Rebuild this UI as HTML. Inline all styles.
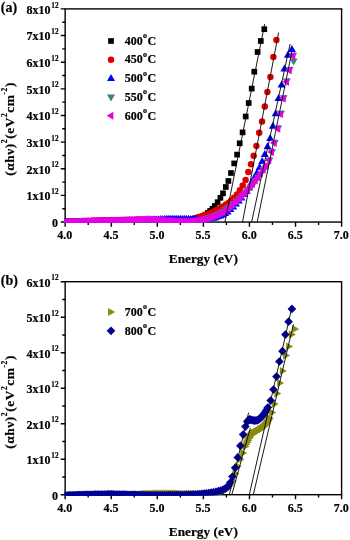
<!DOCTYPE html>
<html lang="en">
<head>
<meta charset="utf-8">
<title>Tauc plots</title>
<style>html,body{margin:0;padding:0;background:#fff}svg{display:block}text{stroke:#000;stroke-width:.2px}</style>
</head>
<body>
<svg width="350" height="540" viewBox="0 0 350 540" font-family='"Liberation Serif", "Times New Roman", Times, serif' font-weight="bold" fill="#000">
<rect width="350" height="540" fill="#fff"/>
<defs><clipPath id="ca"><rect x="64.45" y="8.2" width="277.85" height="214.55"/></clipPath><clipPath id="cb"><rect x="64.45" y="281" width="277.85" height="214.4"/></clipPath></defs>
<rect x="65.15" y="8.9" width="276.45" height="213.15" fill="none" stroke="#000" stroke-width="1.4"/>
<path d="M65.15 8.9h-4.4M65.15 22.22h-2.9M65.15 35.54h-4.4M65.15 48.87h-2.9M65.15 62.19h-4.4M65.15 75.51h-2.9M65.15 88.83h-4.4M65.15 102.15h-2.9M65.15 115.48h-4.4M65.15 128.8h-2.9M65.15 142.12h-4.4M65.15 155.44h-2.9M65.15 168.76h-4.4M65.15 182.08h-2.9M65.15 195.41h-4.4M65.15 208.73h-2.9M65.15 222.05h-4.4M65.15 222.05v4.6M88.19 222.05v2.9M111.23 222.05v4.6M134.26 222.05v2.9M157.3 222.05v4.6M180.34 222.05v2.9M203.38 222.05v4.6M226.41 222.05v2.9M249.45 222.05v4.6M272.49 222.05v2.9M295.53 222.05v4.6M318.56 222.05v2.9M341.6 222.05v4.6" stroke="#000" stroke-width="1.4" fill="none"/>
<g font-size="12" text-anchor="end">
<text x="50.5" y="13.8">8x10</text>
<text x="51.3" y="7.5" font-size="7.2" text-anchor="start" stroke="#000" stroke-width="0.15">12</text>
<text x="50.5" y="40.44">7x10</text>
<text x="51.3" y="34.14" font-size="7.2" text-anchor="start" stroke="#000" stroke-width="0.15">12</text>
<text x="50.5" y="67.09">6x10</text>
<text x="51.3" y="60.79" font-size="7.2" text-anchor="start" stroke="#000" stroke-width="0.15">12</text>
<text x="50.5" y="93.73">5x10</text>
<text x="51.3" y="87.43" font-size="7.2" text-anchor="start" stroke="#000" stroke-width="0.15">12</text>
<text x="50.5" y="120.38">4x10</text>
<text x="51.3" y="114.08" font-size="7.2" text-anchor="start" stroke="#000" stroke-width="0.15">12</text>
<text x="50.5" y="147.02">3x10</text>
<text x="51.3" y="140.72" font-size="7.2" text-anchor="start" stroke="#000" stroke-width="0.15">12</text>
<text x="50.5" y="173.66">2x10</text>
<text x="51.3" y="167.36" font-size="7.2" text-anchor="start" stroke="#000" stroke-width="0.15">12</text>
<text x="50.5" y="200.31">1x10</text>
<text x="51.3" y="194.01" font-size="7.2" text-anchor="start" stroke="#000" stroke-width="0.15">12</text>
<text x="58.0" y="226.95">0</text>
</g>
<g font-size="12" text-anchor="middle">
<text x="64.85" y="238.85">4.0</text>
<text x="110.93" y="238.85">4.5</text>
<text x="157" y="238.85">5.0</text>
<text x="203.08" y="238.85">5.5</text>
<text x="249.15" y="238.85">6.0</text>
<text x="295.23" y="238.85">6.5</text>
<text x="341.3" y="238.85">7.0</text>
</g>
<text x="203.3" y="263.35" font-size="13.3" text-anchor="middle">Energy (eV)</text>
<text transform="translate(13.9 128.9) rotate(-90)" font-size="13.4" letter-spacing="0.55" text-anchor="middle">(αhν)<tspan font-size="7.6" dy="-7.2">2</tspan><tspan dy="7.2">(eV</tspan><tspan font-size="7.6" dy="-7.2">2</tspan><tspan dy="7.2">cm</tspan><tspan font-size="7.6" dy="-7.2">-2</tspan><tspan dy="7.2">)</tspan></text>
<text x="0.8" y="11.8" font-size="14">(a)</text>
<g clip-path="url(#ca)">
<g fill="#000000"><rect x="61.36" y="218.95" width="5.7" height="5.7"/><rect x="62.55" y="218.94" width="5.7" height="5.7"/><rect x="63.75" y="218.91" width="5.7" height="5.7"/><rect x="64.95" y="218.88" width="5.7" height="5.7"/><rect x="66.17" y="218.86" width="5.7" height="5.7"/><rect x="67.39" y="218.83" width="5.7" height="5.7"/><rect x="68.62" y="218.8" width="5.7" height="5.7"/><rect x="69.85" y="218.77" width="5.7" height="5.7"/><rect x="71.1" y="218.74" width="5.7" height="5.7"/><rect x="72.35" y="218.71" width="5.7" height="5.7"/><rect x="73.62" y="218.68" width="5.7" height="5.7"/><rect x="74.89" y="218.65" width="5.7" height="5.7"/><rect x="76.17" y="218.62" width="5.7" height="5.7"/><rect x="77.46" y="218.59" width="5.7" height="5.7"/><rect x="78.75" y="218.56" width="5.7" height="5.7"/><rect x="80.06" y="218.53" width="5.7" height="5.7"/><rect x="81.37" y="218.5" width="5.7" height="5.7"/><rect x="82.7" y="218.46" width="5.7" height="5.7"/><rect x="84.03" y="218.43" width="5.7" height="5.7"/><rect x="85.37" y="218.4" width="5.7" height="5.7"/><rect x="86.72" y="218.37" width="5.7" height="5.7"/><rect x="88.08" y="218.34" width="5.7" height="5.7"/><rect x="89.45" y="218.3" width="5.7" height="5.7"/><rect x="90.83" y="218.27" width="5.7" height="5.7"/><rect x="92.22" y="218.24" width="5.7" height="5.7"/><rect x="93.62" y="218.21" width="5.7" height="5.7"/><rect x="95.03" y="218.17" width="5.7" height="5.7"/><rect x="96.45" y="218.14" width="5.7" height="5.7"/><rect x="97.88" y="218.11" width="5.7" height="5.7"/><rect x="99.32" y="218.07" width="5.7" height="5.7"/><rect x="100.77" y="218.04" width="5.7" height="5.7"/><rect x="102.23" y="218" width="5.7" height="5.7"/><rect x="103.7" y="217.97" width="5.7" height="5.7"/><rect x="105.18" y="217.93" width="5.7" height="5.7"/><rect x="106.67" y="217.9" width="5.7" height="5.7"/><rect x="108.17" y="217.86" width="5.7" height="5.7"/><rect x="109.69" y="217.83" width="5.7" height="5.7"/><rect x="111.21" y="217.79" width="5.7" height="5.7"/><rect x="112.75" y="217.75" width="5.7" height="5.7"/><rect x="114.29" y="217.72" width="5.7" height="5.7"/><rect x="115.85" y="217.68" width="5.7" height="5.7"/><rect x="117.42" y="217.64" width="5.7" height="5.7"/><rect x="119.01" y="217.61" width="5.7" height="5.7"/><rect x="120.6" y="217.57" width="5.7" height="5.7"/><rect x="122.21" y="217.53" width="5.7" height="5.7"/><rect x="123.83" y="217.49" width="5.7" height="5.7"/><rect x="125.46" y="217.46" width="5.7" height="5.7"/><rect x="127.1" y="217.42" width="5.7" height="5.7"/><rect x="128.76" y="217.38" width="5.7" height="5.7"/><rect x="130.42" y="217.34" width="5.7" height="5.7"/><rect x="132.11" y="217.3" width="5.7" height="5.7"/><rect x="133.8" y="217.26" width="5.7" height="5.7"/><rect x="135.51" y="217.22" width="5.7" height="5.7"/><rect x="137.23" y="217.18" width="5.7" height="5.7"/><rect x="138.96" y="217.14" width="5.7" height="5.7"/><rect x="140.71" y="217.1" width="5.7" height="5.7"/><rect x="142.47" y="217.06" width="5.7" height="5.7"/><rect x="144.25" y="217.02" width="5.7" height="5.7"/><rect x="146.04" y="216.98" width="5.7" height="5.7"/><rect x="147.84" y="216.98" width="5.7" height="5.7"/><rect x="149.66" y="217.05" width="5.7" height="5.7"/><rect x="151.5" y="217.12" width="5.7" height="5.7"/><rect x="153.34" y="217.2" width="5.7" height="5.7"/><rect x="155.21" y="217.27" width="5.7" height="5.7"/><rect x="157.09" y="217.35" width="5.7" height="5.7"/><rect x="158.98" y="217.42" width="5.7" height="5.7"/><rect x="160.89" y="217.5" width="5.7" height="5.7"/><rect x="162.81" y="217.58" width="5.7" height="5.7"/><rect x="164.76" y="217.65" width="5.7" height="5.7"/><rect x="166.71" y="217.73" width="5.7" height="5.7"/><rect x="168.69" y="217.75" width="5.7" height="5.7"/><rect x="170.68" y="217.75" width="5.7" height="5.7"/><rect x="172.69" y="217.75" width="5.7" height="5.7"/><rect x="174.71" y="217.75" width="5.7" height="5.7"/><rect x="176.75" y="217.75" width="5.7" height="5.7"/><rect x="178.81" y="217.75" width="5.7" height="5.7"/><rect x="180.89" y="217.75" width="5.7" height="5.7"/><rect x="182.98" y="217.65" width="5.7" height="5.7"/><rect x="185.09" y="217.4" width="5.7" height="5.7"/><rect x="187.22" y="217.14" width="5.7" height="5.7"/><rect x="189.37" y="216.88" width="5.7" height="5.7"/><rect x="191.54" y="216.62" width="5.7" height="5.7"/><rect x="193.73" y="216.04" width="5.7" height="5.7"/><rect x="195.94" y="215.34" width="5.7" height="5.7"/><rect x="198.16" y="214.41" width="5.7" height="5.7"/><rect x="200.41" y="213.19" width="5.7" height="5.7"/><rect x="202.68" y="211.75" width="5.7" height="5.7"/><rect x="204.96" y="210.06" width="5.7" height="5.7"/><rect x="207.27" y="208.14" width="5.7" height="5.7"/><rect x="209.6" y="205.92" width="5.7" height="5.7"/><rect x="211.95" y="203.15" width="5.7" height="5.7"/><rect x="214.75" y="199.35" width="5.7" height="5.7"/><rect x="217.55" y="194.95" width="5.7" height="5.7"/><rect x="220.15" y="190.45" width="5.7" height="5.7"/><rect x="222.95" y="184.15" width="5.7" height="5.7"/><rect x="225.55" y="178.15" width="5.7" height="5.7"/><rect x="228.15" y="170.15" width="5.7" height="5.7"/><rect x="231.35" y="160.55" width="5.7" height="5.7"/><rect x="234.25" y="151.75" width="5.7" height="5.7"/><rect x="236.85" y="140.45" width="5.7" height="5.7"/><rect x="239.75" y="129.55" width="5.7" height="5.7"/><rect x="242.85" y="113.65" width="5.7" height="5.7"/><rect x="245.85" y="100.15" width="5.7" height="5.7"/><rect x="248.85" y="85.75" width="5.7" height="5.7"/><rect x="251.45" y="68.85" width="5.7" height="5.7"/><rect x="254.75" y="49.15" width="5.7" height="5.7"/><rect x="257.95" y="38.15" width="5.7" height="5.7"/><rect x="261.45" y="26.35" width="5.7" height="5.7"/></g>
<g fill="#e00000"><circle cx="64.99" cy="221.8" r="3.25"/><circle cx="66.18" cy="221.76" r="3.25"/><circle cx="67.38" cy="221.72" r="3.25"/><circle cx="68.59" cy="221.68" r="3.25"/><circle cx="69.81" cy="221.63" r="3.25"/><circle cx="71.04" cy="221.59" r="3.25"/><circle cx="72.27" cy="221.55" r="3.25"/><circle cx="73.52" cy="221.51" r="3.25"/><circle cx="74.77" cy="221.47" r="3.25"/><circle cx="76.03" cy="221.42" r="3.25"/><circle cx="77.3" cy="221.38" r="3.25"/><circle cx="78.57" cy="221.33" r="3.25"/><circle cx="79.86" cy="221.29" r="3.25"/><circle cx="81.15" cy="221.25" r="3.25"/><circle cx="82.46" cy="221.2" r="3.25"/><circle cx="83.77" cy="221.16" r="3.25"/><circle cx="85.09" cy="221.11" r="3.25"/><circle cx="86.42" cy="221.07" r="3.25"/><circle cx="87.76" cy="221.02" r="3.25"/><circle cx="89.1" cy="220.97" r="3.25"/><circle cx="90.46" cy="220.93" r="3.25"/><circle cx="91.83" cy="220.88" r="3.25"/><circle cx="93.2" cy="220.83" r="3.25"/><circle cx="94.59" cy="220.79" r="3.25"/><circle cx="95.99" cy="220.74" r="3.25"/><circle cx="97.39" cy="220.69" r="3.25"/><circle cx="98.81" cy="220.64" r="3.25"/><circle cx="100.23" cy="220.6" r="3.25"/><circle cx="101.67" cy="220.57" r="3.25"/><circle cx="103.11" cy="220.54" r="3.25"/><circle cx="104.57" cy="220.51" r="3.25"/><circle cx="106.04" cy="220.48" r="3.25"/><circle cx="107.51" cy="220.45" r="3.25"/><circle cx="109" cy="220.42" r="3.25"/><circle cx="110.5" cy="220.39" r="3.25"/><circle cx="112.01" cy="220.36" r="3.25"/><circle cx="113.53" cy="220.33" r="3.25"/><circle cx="115.06" cy="220.3" r="3.25"/><circle cx="116.61" cy="220.27" r="3.25"/><circle cx="118.16" cy="220.24" r="3.25"/><circle cx="119.73" cy="220.21" r="3.25"/><circle cx="121.31" cy="220.17" r="3.25"/><circle cx="122.9" cy="220.14" r="3.25"/><circle cx="124.5" cy="220.11" r="3.25"/><circle cx="126.11" cy="220.08" r="3.25"/><circle cx="127.74" cy="220.05" r="3.25"/><circle cx="129.38" cy="220.01" r="3.25"/><circle cx="131.03" cy="219.98" r="3.25"/><circle cx="132.69" cy="219.95" r="3.25"/><circle cx="134.37" cy="219.91" r="3.25"/><circle cx="136.06" cy="219.88" r="3.25"/><circle cx="137.76" cy="219.84" r="3.25"/><circle cx="139.48" cy="219.81" r="3.25"/><circle cx="141.21" cy="219.85" r="3.25"/><circle cx="142.95" cy="219.92" r="3.25"/><circle cx="144.71" cy="219.99" r="3.25"/><circle cx="146.48" cy="220.06" r="3.25"/><circle cx="148.27" cy="220.13" r="3.25"/><circle cx="150.07" cy="220.2" r="3.25"/><circle cx="151.88" cy="220.28" r="3.25"/><circle cx="153.71" cy="220.35" r="3.25"/><circle cx="155.55" cy="220.42" r="3.25"/><circle cx="157.41" cy="220.5" r="3.25"/><circle cx="159.28" cy="220.57" r="3.25"/><circle cx="161.17" cy="220.62" r="3.25"/><circle cx="163.08" cy="220.65" r="3.25"/><circle cx="165" cy="220.68" r="3.25"/><circle cx="166.93" cy="220.71" r="3.25"/><circle cx="168.88" cy="220.74" r="3.25"/><circle cx="170.85" cy="220.77" r="3.25"/><circle cx="172.84" cy="220.81" r="3.25"/><circle cx="174.84" cy="220.84" r="3.25"/><circle cx="176.86" cy="220.87" r="3.25"/><circle cx="178.89" cy="220.9" r="3.25"/><circle cx="180.94" cy="220.94" r="3.25"/><circle cx="183.02" cy="220.97" r="3.25"/><circle cx="185.1" cy="220.98" r="3.25"/><circle cx="187.21" cy="220.6" r="3.25"/><circle cx="189.33" cy="220.22" r="3.25"/><circle cx="191.48" cy="219.57" r="3.25"/><circle cx="193.64" cy="218.79" r="3.25"/><circle cx="195.82" cy="218.04" r="3.25"/><circle cx="198.02" cy="217.33" r="3.25"/><circle cx="200.24" cy="216.63" r="3.25"/><circle cx="202.48" cy="215.96" r="3.25"/><circle cx="204.74" cy="215.28" r="3.25"/><circle cx="207.02" cy="214.43" r="3.25"/><circle cx="209.32" cy="213.56" r="3.25"/><circle cx="211.64" cy="212.58" r="3.25"/><circle cx="213.98" cy="211.55" r="3.25"/><circle cx="216.35" cy="210.37" r="3.25"/><circle cx="218.73" cy="209.08" r="3.25"/><circle cx="221.14" cy="207.69" r="3.25"/><circle cx="223.57" cy="206.19" r="3.25"/><circle cx="226.02" cy="204.62" r="3.25"/><circle cx="228.5" cy="202.88" r="3.25"/><circle cx="231" cy="200.8" r="3.25"/><circle cx="234" cy="197.8" r="3.25"/><circle cx="237" cy="194.5" r="3.25"/><circle cx="239.9" cy="190.2" r="3.25"/><circle cx="242.7" cy="185.6" r="3.25"/><circle cx="245.6" cy="179.9" r="3.25"/><circle cx="248.3" cy="172" r="3.25"/><circle cx="251" cy="164.3" r="3.25"/><circle cx="253.7" cy="155.7" r="3.25"/><circle cx="256.4" cy="146" r="3.25"/><circle cx="259.2" cy="132.8" r="3.25"/><circle cx="262.05" cy="121.5" r="3.25"/><circle cx="264.8" cy="106.4" r="3.25"/><circle cx="267.4" cy="92" r="3.25"/><circle cx="270.4" cy="77" r="3.25"/><circle cx="273.4" cy="57" r="3.25"/><circle cx="276.4" cy="40" r="3.25"/></g>
<g fill="#0000ff"><path d="M60.55 224.9L68.55 224.9L64.55 217.9Z"/><path d="M61.75 224.91L69.75 224.91L65.75 217.91Z"/><path d="M62.95 224.92L70.95 224.92L66.95 217.92Z"/><path d="M64.15 224.93L72.15 224.93L68.15 217.93Z"/><path d="M65.37 224.94L73.37 224.94L69.37 217.94Z"/><path d="M66.59 224.96L74.59 224.96L70.59 217.96Z"/><path d="M67.83 224.97L75.83 224.97L71.83 217.97Z"/><path d="M69.07 224.98L77.07 224.98L73.07 217.98Z"/><path d="M70.31 224.99L78.31 224.99L74.31 217.99Z"/><path d="M71.57 225.01L79.57 225.01L75.57 218.01Z"/><path d="M72.84 225.02L80.84 225.02L76.84 218.02Z"/><path d="M74.11 225.03L82.11 225.03L78.11 218.03Z"/><path d="M75.39 225.04L83.39 225.04L79.39 218.04Z"/><path d="M76.68 225.06L84.68 225.06L80.68 218.06Z"/><path d="M77.98 225.07L85.98 225.07L81.98 218.07Z"/><path d="M79.29 225.08L87.29 225.08L83.29 218.08Z"/><path d="M80.61 225.1L88.61 225.1L84.61 218.1Z"/><path d="M81.93 225.07L89.93 225.07L85.93 218.07Z"/><path d="M83.27 225.04L91.27 225.04L87.27 218.04Z"/><path d="M84.61 225L92.61 225L88.61 218Z"/><path d="M85.97 224.96L93.97 224.96L89.97 217.96Z"/><path d="M87.33 224.92L95.33 224.92L91.33 217.92Z"/><path d="M88.7 224.88L96.7 224.88L92.7 217.88Z"/><path d="M90.09 224.84L98.09 224.84L94.09 217.84Z"/><path d="M91.48 224.8L99.48 224.8L95.48 217.8Z"/><path d="M92.88 224.76L100.88 224.76L96.88 217.76Z"/><path d="M94.29 224.72L102.29 224.72L98.29 217.72Z"/><path d="M95.71 224.68L103.71 224.68L99.71 217.68Z"/><path d="M97.15 224.64L105.15 224.64L101.15 217.64Z"/><path d="M98.59 224.6L106.59 224.6L102.59 217.6Z"/><path d="M100.04 224.56L108.04 224.56L104.04 217.56Z"/><path d="M101.5 224.51L109.5 224.51L105.5 217.51Z"/><path d="M102.98 224.47L110.98 224.47L106.98 217.47Z"/><path d="M104.46 224.43L112.46 224.43L108.46 217.43Z"/><path d="M105.96 224.39L113.96 224.39L109.96 217.39Z"/><path d="M107.46 224.34L115.46 224.34L111.46 217.34Z"/><path d="M108.98 224.3L116.98 224.3L112.98 217.3Z"/><path d="M110.51 224.26L118.51 224.26L114.51 217.26Z"/><path d="M112.05 224.21L120.05 224.21L116.05 217.21Z"/><path d="M113.6 224.17L121.6 224.17L117.6 217.17Z"/><path d="M115.16 224.12L123.16 224.12L119.16 217.12Z"/><path d="M116.73 224.08L124.73 224.08L120.73 217.08Z"/><path d="M118.32 224.02L126.32 224.02L122.32 217.02Z"/><path d="M119.92 223.97L127.92 223.97L123.92 216.97Z"/><path d="M121.53 223.92L129.53 223.92L125.53 216.92Z"/><path d="M123.15 223.86L131.15 223.86L127.15 216.86Z"/><path d="M124.78 223.81L132.78 223.81L128.78 216.81Z"/><path d="M126.43 223.75L134.43 223.75L130.43 216.75Z"/><path d="M128.09 223.7L136.09 223.7L132.09 216.7Z"/><path d="M129.76 223.64L137.76 223.64L133.76 216.64Z"/><path d="M131.45 223.59L139.45 223.59L135.45 216.59Z"/><path d="M133.15 223.53L141.15 223.53L137.15 216.53Z"/><path d="M134.86 223.47L142.86 223.47L138.86 216.47Z"/><path d="M136.58 223.41L144.58 223.41L140.58 216.41Z"/><path d="M138.32 223.36L146.32 223.36L142.32 216.36Z"/><path d="M140.07 223.3L148.07 223.3L144.07 216.3Z"/><path d="M141.84 223.24L149.84 223.24L145.84 216.24Z"/><path d="M143.62 223.18L151.62 223.18L147.62 216.18Z"/><path d="M145.41 223.12L153.41 223.12L149.41 216.12Z"/><path d="M147.22 222.98L155.22 222.98L151.22 215.98Z"/><path d="M149.04 222.8L157.04 222.8L153.04 215.8Z"/><path d="M150.88 222.61L158.88 222.61L154.88 215.61Z"/><path d="M152.73 222.43L160.73 222.43L156.73 215.43Z"/><path d="M154.6 222.24L162.6 222.24L158.6 215.24Z"/><path d="M156.49 222.08L164.49 222.08L160.49 215.08Z"/><path d="M158.38 222L166.38 222L162.38 215Z"/><path d="M160.3 221.93L168.3 221.93L164.3 214.93Z"/><path d="M162.23 221.85L170.23 221.85L166.23 214.85Z"/><path d="M164.17 221.77L172.17 221.77L168.17 214.77Z"/><path d="M166.14 221.7L174.14 221.7L170.14 214.7Z"/><path d="M168.12 221.7L176.12 221.7L172.12 214.7Z"/><path d="M170.11 221.7L178.11 221.7L174.11 214.7Z"/><path d="M172.12 221.7L180.12 221.7L176.12 214.7Z"/><path d="M174.15 221.7L182.15 221.7L178.15 214.7Z"/><path d="M176.2 221.7L184.2 221.7L180.2 214.7Z"/><path d="M178.26 221.7L186.26 221.7L182.26 214.7Z"/><path d="M180.34 221.7L188.34 221.7L184.34 214.7Z"/><path d="M182.44 221.76L190.44 221.76L186.44 214.76Z"/><path d="M184.56 221.84L192.56 221.84L188.56 214.84Z"/><path d="M186.7 221.93L194.7 221.93L190.7 214.93Z"/><path d="M188.85 222.01L196.85 222.01L192.85 215.01Z"/><path d="M191.03 222.11L199.03 222.11L195.03 215.11Z"/><path d="M193.22 222.54L201.22 222.54L197.22 215.54Z"/><path d="M195.43 222.99L203.43 222.99L199.43 215.99Z"/><path d="M197.67 222.9L205.67 222.9L201.67 215.9Z"/><path d="M199.92 222.63L207.92 222.63L203.92 215.63Z"/><path d="M202.19 222.26L210.19 222.26L206.19 215.26Z"/><path d="M204.48 221.8L212.48 221.8L208.48 214.8Z"/><path d="M206.8 221.31L214.8 221.31L210.8 214.31Z"/><path d="M209.13 220.75L217.13 220.75L213.13 213.75Z"/><path d="M211.49 220.14L219.49 220.14L215.49 213.14Z"/><path d="M213.87 219.34L221.87 219.34L217.87 212.34Z"/><path d="M216.27 218.54L224.27 218.54L220.27 211.54Z"/><path d="M218.69 217.46L226.69 217.46L222.69 210.46Z"/><path d="M221.13 216.08L229.13 216.08L225.13 209.08Z"/><path d="M223.6 214.5L231.6 214.5L227.6 207.5Z"/><path d="M226.4 212.1L234.4 212.1L230.4 205.1Z"/><path d="M229.2 209.5L237.2 209.5L233.2 202.5Z"/><path d="M232 206.5L240 206.5L236 199.5Z"/><path d="M234.8 203.6L242.8 203.6L238.8 196.6Z"/><path d="M237.5 200.4L245.5 200.4L241.5 193.4Z"/><path d="M240.2 197.1L248.2 197.1L244.2 190.1Z"/><path d="M242.8 193.7L250.8 193.7L246.8 186.7Z"/><path d="M245.3 189.5L253.3 189.5L249.3 182.5Z"/><path d="M247.8 185.1L255.8 185.1L251.8 178.1Z"/><path d="M250.4 180.3L258.4 180.3L254.4 173.3Z"/><path d="M253 175.5L261 175.5L257 168.5Z"/><path d="M255.6 170.1L263.6 170.1L259.6 163.1Z"/><path d="M258.2 164.1L266.2 164.1L262.2 157.1Z"/><path d="M260.8 157L268.8 157L264.8 150Z"/><path d="M263.5 149.3L271.5 149.3L267.5 142.3Z"/><path d="M266.2 141.1L274.2 141.1L270.2 134.1Z"/><path d="M268.9 128.8L276.9 128.8L272.9 121.8Z"/><path d="M271.7 116.2L279.7 116.2L275.7 109.2Z"/><path d="M274.5 101.1L282.5 101.1L278.5 94.1Z"/><path d="M277.6 87.5L285.6 87.5L281.6 80.5Z"/><path d="M280.4 71.5L288.4 71.5L284.4 64.5Z"/><path d="M283.9 57.8L291.9 57.8L287.9 50.8Z"/><path d="M287.9 52.1L295.9 52.1L291.9 45.1Z"/></g>
<g fill="#3f8080"><path d="M60.84 219.7L68.84 219.7L64.84 226.7Z"/><path d="M62.04 219.67L70.04 219.67L66.04 226.67Z"/><path d="M63.24 219.64L71.24 219.64L67.24 226.64Z"/><path d="M64.45 219.6L72.45 219.6L68.45 226.6Z"/><path d="M65.67 219.57L73.67 219.57L69.67 226.57Z"/><path d="M66.89 219.53L74.89 219.53L70.89 226.53Z"/><path d="M68.13 219.5L76.13 219.5L72.13 226.5Z"/><path d="M69.37 219.46L77.37 219.46L73.37 226.46Z"/><path d="M70.62 219.43L78.62 219.43L74.62 226.43Z"/><path d="M71.88 219.39L79.88 219.39L75.88 226.39Z"/><path d="M73.14 219.35L81.14 219.35L77.14 226.35Z"/><path d="M74.42 219.32L82.42 219.32L78.42 226.32Z"/><path d="M75.7 219.28L83.7 219.28L79.7 226.28Z"/><path d="M77 219.24L85 219.24L81 226.24Z"/><path d="M78.3 219.21L86.3 219.21L82.3 226.21Z"/><path d="M79.61 219.17L87.61 219.17L83.61 226.17Z"/><path d="M80.93 219.13L88.93 219.13L84.93 226.13Z"/><path d="M82.26 219.09L90.26 219.09L86.26 226.09Z"/><path d="M83.59 219.05L91.59 219.05L87.59 226.05Z"/><path d="M84.94 219.02L92.94 219.02L88.94 226.02Z"/><path d="M86.3 218.98L94.3 218.98L90.3 225.98Z"/><path d="M87.66 218.94L95.66 218.94L91.66 225.94Z"/><path d="M89.04 218.9L97.04 218.9L93.04 225.9Z"/><path d="M90.42 218.86L98.42 218.86L94.42 225.86Z"/><path d="M91.82 218.82L99.82 218.82L95.82 225.82Z"/><path d="M93.22 218.78L101.22 218.78L97.22 225.78Z"/><path d="M94.64 218.74L102.64 218.74L98.64 225.74Z"/><path d="M96.06 218.7L104.06 218.7L100.06 225.7Z"/><path d="M97.5 218.65L105.5 218.65L101.5 225.65Z"/><path d="M98.94 218.6L106.94 218.6L102.94 225.6Z"/><path d="M100.39 218.55L108.39 218.55L104.39 225.55Z"/><path d="M101.86 218.5L109.86 218.5L105.86 225.5Z"/><path d="M103.34 218.45L111.34 218.45L107.34 225.45Z"/><path d="M104.82 218.4L112.82 218.4L108.82 225.4Z"/><path d="M106.32 218.35L114.32 218.35L110.32 225.35Z"/><path d="M107.83 218.3L115.83 218.3L111.83 225.3Z"/><path d="M109.35 218.25L117.35 218.25L113.35 225.25Z"/><path d="M110.88 218.2L118.88 218.2L114.88 225.2Z"/><path d="M112.42 218.14L120.42 218.14L116.42 225.14Z"/><path d="M113.98 218.09L121.98 218.09L117.98 225.09Z"/><path d="M115.54 218.04L123.54 218.04L119.54 225.04Z"/><path d="M117.12 217.99L125.12 217.99L121.12 224.99Z"/><path d="M118.71 217.93L126.71 217.93L122.71 224.93Z"/><path d="M120.31 217.88L128.31 217.88L124.31 224.88Z"/><path d="M121.92 217.82L129.92 217.82L125.92 224.82Z"/><path d="M123.55 217.76L131.55 217.76L127.55 224.76Z"/><path d="M125.18 217.7L133.18 217.7L129.18 224.7Z"/><path d="M126.83 217.63L134.83 217.63L130.83 224.63Z"/><path d="M128.5 217.56L136.5 217.56L132.5 224.56Z"/><path d="M130.17 217.5L138.17 217.5L134.17 224.5Z"/><path d="M131.86 217.43L139.86 217.43L135.86 224.43Z"/><path d="M133.56 217.36L141.56 217.36L137.56 224.36Z"/><path d="M135.28 217.29L143.28 217.29L139.28 224.29Z"/><path d="M137 217.22L145 217.22L141 224.22Z"/><path d="M138.75 217.15L146.75 217.15L142.75 224.15Z"/><path d="M140.5 217.08L148.5 217.08L144.5 224.08Z"/><path d="M142.27 217.01L150.27 217.01L146.27 224.01Z"/><path d="M144.05 217.1L152.05 217.1L148.05 224.1Z"/><path d="M145.85 217.23L153.85 217.23L149.85 224.23Z"/><path d="M147.66 217.35L155.66 217.35L151.66 224.35Z"/><path d="M149.49 217.48L157.49 217.48L153.49 224.48Z"/><path d="M151.33 217.61L159.33 217.61L155.33 224.61Z"/><path d="M153.19 217.74L161.19 217.74L157.19 224.74Z"/><path d="M155.06 217.88L163.06 217.88L159.06 224.88Z"/><path d="M156.95 218.02L164.95 218.02L160.95 225.02Z"/><path d="M158.85 218.16L166.85 218.16L162.85 225.16Z"/><path d="M160.77 218.3L168.77 218.3L164.77 225.3Z"/><path d="M162.7 218.44L170.7 218.44L166.7 225.44Z"/><path d="M164.65 218.58L172.65 218.58L168.65 225.58Z"/><path d="M166.62 218.73L174.62 218.73L170.62 225.73Z"/><path d="M168.6 218.82L176.6 218.82L172.6 225.82Z"/><path d="M170.6 218.86L178.6 218.86L174.6 225.86Z"/><path d="M172.61 218.9L180.61 218.9L176.61 225.9Z"/><path d="M174.65 218.94L182.65 218.94L178.65 225.94Z"/><path d="M176.7 218.98L184.7 218.98L180.7 225.98Z"/><path d="M178.77 219.02L186.77 219.02L182.77 226.02Z"/><path d="M180.85 219.07L188.85 219.07L184.85 226.07Z"/><path d="M182.96 219.07L190.96 219.07L186.96 226.07Z"/><path d="M185.08 218.9L193.08 218.9L189.08 225.9Z"/><path d="M187.22 218.73L195.22 218.73L191.22 225.73Z"/><path d="M189.38 218.52L197.38 218.52L193.38 225.52Z"/><path d="M191.56 218.3L199.56 218.3L195.56 225.3Z"/><path d="M193.76 218.08L201.76 218.08L197.76 225.08Z"/><path d="M195.97 217.86L203.97 217.86L199.97 224.86Z"/><path d="M198.21 217.52L206.21 217.52L202.21 224.52Z"/><path d="M200.47 216.86L208.47 216.86L204.47 223.86Z"/><path d="M202.75 216.08L210.75 216.08L206.75 223.08Z"/><path d="M205.04 215.26L213.04 215.26L209.04 222.26Z"/><path d="M207.36 214.39L215.36 214.39L211.36 221.39Z"/><path d="M209.7 213.44L217.7 213.44L213.7 220.44Z"/><path d="M212.06 212.47L220.06 212.47L216.06 219.47Z"/><path d="M214.45 211.45L222.45 211.45L218.45 218.45Z"/><path d="M216.85 210.42L224.85 210.42L220.85 217.42Z"/><path d="M219.28 208.91L227.28 208.91L223.28 215.91Z"/><path d="M221.73 207.11L229.73 207.11L225.73 214.11Z"/><path d="M224.2 205.11L232.2 205.11L228.2 212.11Z"/><path d="M226.7 203.9L234.7 203.9L230.7 210.9Z"/><path d="M229.5 201.5L237.5 201.5L233.5 208.5Z"/><path d="M232.5 198.8L240.5 198.8L236.5 205.8Z"/><path d="M235.5 195.8L243.5 195.8L239.5 202.8Z"/><path d="M238.3 193.1L246.3 193.1L242.3 200.1Z"/><path d="M241.1 190.2L249.1 190.2L245.1 197.2Z"/><path d="M243.9 187.3L251.9 187.3L247.9 194.3Z"/><path d="M246.5 184.5L254.5 184.5L250.5 191.5Z"/><path d="M249.1 181.2L257.1 181.2L253.1 188.2Z"/><path d="M251.7 177.9L259.7 177.9L255.7 184.9Z"/><path d="M254.2 174.6L262.2 174.6L258.2 181.6Z"/><path d="M256.9 170.9L264.9 170.9L260.9 177.9Z"/><path d="M259.7 167.1L267.7 167.1L263.7 174.1Z"/><path d="M262.5 163.3L270.5 163.3L266.5 170.3Z"/><path d="M265.4 157.5L273.4 157.5L269.4 164.5Z"/><path d="M268.1 149.3L276.1 149.3L272.1 156.3Z"/><path d="M270.69 140.12L278.69 140.12L274.69 147.12Z"/><path d="M274.1 125.5L282.1 125.5L278.1 132.5Z"/><path d="M276.9 110.7L284.9 110.7L280.9 117.7Z"/><path d="M279.7 95.3L287.7 95.3L283.7 102.3Z"/><path d="M282.82 78.5L290.82 78.5L286.82 85.5Z"/><path d="M285.65 67.1L293.65 67.1L289.65 74.1Z"/><path d="M289.19 52.8L297.19 52.8L293.19 59.8Z"/><path d="M289.6 58.5L297.6 58.5L293.6 65.5Z"/></g>
<g fill="#e600e6"><path d="M68.72 217.99L68.72 225.99L61.92 221.99Z"/><path d="M69.92 217.96L69.92 225.96L63.12 221.96Z"/><path d="M71.12 217.92L71.12 225.92L64.32 221.92Z"/><path d="M72.34 217.89L72.34 225.89L65.54 221.89Z"/><path d="M73.56 217.85L73.56 225.85L66.76 221.85Z"/><path d="M74.79 217.82L74.79 225.82L67.99 221.82Z"/><path d="M76.02 217.78L76.02 225.78L69.22 221.78Z"/><path d="M77.27 217.75L77.27 225.75L70.47 221.75Z"/><path d="M78.52 217.71L78.52 225.71L71.72 221.71Z"/><path d="M79.78 217.67L79.78 225.67L72.98 221.67Z"/><path d="M81.05 217.64L81.05 225.64L74.25 221.64Z"/><path d="M82.33 217.6L82.33 225.6L75.53 221.6Z"/><path d="M83.62 217.57L83.62 225.57L76.82 221.57Z"/><path d="M84.92 217.53L84.92 225.53L78.12 221.53Z"/><path d="M86.22 217.49L86.22 225.49L79.42 221.49Z"/><path d="M87.54 217.45L87.54 225.45L80.74 221.45Z"/><path d="M88.86 217.42L88.86 225.42L82.06 221.42Z"/><path d="M90.19 217.38L90.19 225.38L83.39 221.38Z"/><path d="M91.53 217.34L91.53 225.34L84.73 221.34Z"/><path d="M92.88 217.3L92.88 225.3L86.08 221.3Z"/><path d="M94.24 217.26L94.24 225.26L87.44 221.26Z"/><path d="M95.61 217.22L95.61 225.22L88.81 221.22Z"/><path d="M96.99 217.18L96.99 225.18L90.19 221.18Z"/><path d="M98.38 217.14L98.38 225.14L91.58 221.14Z"/><path d="M99.78 217.1L99.78 225.1L92.98 221.1Z"/><path d="M101.19 217.06L101.19 225.06L94.39 221.06Z"/><path d="M102.61 217.02L102.61 225.02L95.81 221.02Z"/><path d="M104.03 216.98L104.03 224.98L97.23 220.98Z"/><path d="M105.47 216.93L105.47 224.93L98.67 220.93Z"/><path d="M106.92 216.88L106.92 224.88L100.12 220.88Z"/><path d="M108.38 216.83L108.38 224.83L101.58 220.83Z"/><path d="M109.85 216.78L109.85 224.78L103.05 220.78Z"/><path d="M111.33 216.73L111.33 224.73L104.53 220.73Z"/><path d="M112.82 216.68L112.82 224.68L106.02 220.68Z"/><path d="M114.32 216.63L114.32 224.63L107.52 220.63Z"/><path d="M115.84 216.58L115.84 224.58L109.04 220.58Z"/><path d="M117.36 216.53L117.36 224.53L110.56 220.53Z"/><path d="M118.9 216.48L118.9 224.48L112.1 220.48Z"/><path d="M120.44 216.42L120.44 224.42L113.64 220.42Z"/><path d="M122 216.37L122 224.37L115.2 220.37Z"/><path d="M123.57 216.32L123.57 224.32L116.77 220.32Z"/><path d="M125.15 216.26L125.15 224.26L118.35 220.26Z"/><path d="M126.75 216.21L126.75 224.21L119.95 220.21Z"/><path d="M128.35 216.16L128.35 224.16L121.55 220.16Z"/><path d="M129.97 216.1L129.97 224.1L123.17 220.1Z"/><path d="M131.6 216.04L131.6 224.04L124.8 220.04Z"/><path d="M133.24 215.97L133.24 223.97L126.44 219.97Z"/><path d="M134.9 215.9L134.9 223.9L128.1 219.9Z"/><path d="M136.56 215.84L136.56 223.84L129.76 219.84Z"/><path d="M138.24 215.77L138.24 223.77L131.44 219.77Z"/><path d="M139.94 215.7L139.94 223.7L133.14 219.7Z"/><path d="M141.65 215.63L141.65 223.63L134.85 219.63Z"/><path d="M143.37 215.57L143.37 223.57L136.57 219.57Z"/><path d="M145.1 215.5L145.1 223.5L138.3 219.5Z"/><path d="M146.85 215.43L146.85 223.43L140.05 219.43Z"/><path d="M148.61 215.36L148.61 223.36L141.81 219.36Z"/><path d="M150.38 215.33L150.38 223.33L143.58 219.33Z"/><path d="M152.17 215.45L152.17 223.45L145.37 219.45Z"/><path d="M153.97 215.58L153.97 223.58L147.17 219.58Z"/><path d="M155.79 215.71L155.79 223.71L148.99 219.71Z"/><path d="M157.63 215.83L157.63 223.83L150.83 219.83Z"/><path d="M159.47 215.96L159.47 223.96L152.67 219.96Z"/><path d="M161.33 216.1L161.33 224.1L154.53 220.1Z"/><path d="M163.21 216.24L163.21 224.24L156.41 220.24Z"/><path d="M165.11 216.37L165.11 224.37L158.31 220.37Z"/><path d="M167.01 216.51L167.01 224.51L160.21 220.51Z"/><path d="M168.94 216.66L168.94 224.66L162.14 220.66Z"/><path d="M170.88 216.8L170.88 224.8L164.08 220.8Z"/><path d="M172.83 216.94L172.83 224.94L166.03 220.94Z"/><path d="M174.81 217.09L174.81 225.09L168.01 221.09Z"/><path d="M176.8 217.14L176.8 225.14L170 221.14Z"/><path d="M178.8 217.18L178.8 225.18L172 221.18Z"/><path d="M180.83 217.22L180.83 225.22L174.03 221.22Z"/><path d="M182.87 217.26L182.87 225.26L176.07 221.26Z"/><path d="M184.92 217.3L184.92 225.3L178.12 221.3Z"/><path d="M187 217.34L187 225.34L180.2 221.34Z"/><path d="M189.09 217.38L189.09 225.38L182.29 221.38Z"/><path d="M191.2 217.3L191.2 225.3L184.4 221.3Z"/><path d="M193.33 217.13L193.33 225.13L186.53 221.13Z"/><path d="M195.48 216.95L195.48 224.95L188.68 220.95Z"/><path d="M197.65 216.74L197.65 224.74L190.85 220.74Z"/><path d="M199.84 216.52L199.84 224.52L193.04 220.52Z"/><path d="M202.04 216.3L202.04 224.3L195.24 220.3Z"/><path d="M204.27 216.07L204.27 224.07L197.47 220.07Z"/><path d="M206.51 215.56L206.51 223.56L199.71 219.56Z"/><path d="M208.78 214.87L208.78 222.87L201.98 218.87Z"/><path d="M211.06 214.05L211.06 222.05L204.26 218.05Z"/><path d="M213.37 213.23L213.37 221.23L206.57 217.23Z"/><path d="M215.7 212.31L215.7 220.31L208.9 216.31Z"/><path d="M218.05 211.35L218.05 219.35L211.25 215.35Z"/><path d="M220.42 210.36L220.42 218.36L213.62 214.36Z"/><path d="M222.81 209.34L222.81 217.34L216.01 213.34Z"/><path d="M225.22 208.24L225.22 216.24L218.42 212.24Z"/><path d="M227.66 206.52L227.66 214.52L220.86 210.52Z"/><path d="M230.12 204.61L230.12 212.61L223.32 208.61Z"/><path d="M232.6 202.6L232.6 210.6L225.8 206.6Z"/><path d="M235.4 200.2L235.4 208.2L228.6 204.2Z"/><path d="M238.4 197.5L238.4 205.5L231.6 201.5Z"/><path d="M241.4 194.5L241.4 202.5L234.6 198.5Z"/><path d="M244.2 191.8L244.2 199.8L237.4 195.8Z"/><path d="M247 188.9L247 196.9L240.2 192.9Z"/><path d="M249.8 186L249.8 194L243 190Z"/><path d="M252.4 183.2L252.4 191.2L245.6 187.2Z"/><path d="M255 179.9L255 187.9L248.2 183.9Z"/><path d="M257.6 176.6L257.6 184.6L250.8 180.6Z"/><path d="M260.1 173.3L260.1 181.3L253.3 177.3Z"/><path d="M262.8 169.6L262.8 177.6L256 173.6Z"/><path d="M265.6 165.8L265.6 173.8L258.8 169.8Z"/><path d="M268.4 162L268.4 170L261.6 166Z"/><path d="M271.3 156.2L271.3 164.2L264.5 160.2Z"/><path d="M274 148L274 156L267.2 152Z"/><path d="M276.7 139L276.7 147L269.9 143Z"/><path d="M280.3 124.7L280.3 132.7L273.5 128.7Z"/><path d="M283.1 109.9L283.1 117.9L276.3 113.9Z"/><path d="M285.9 94.5L285.9 102.5L279.1 98.5Z"/><path d="M289 77.7L289 85.7L282.2 81.7Z"/><path d="M291.8 66.3L291.8 74.3L285 70.3Z"/><path d="M295.3 52L295.3 60L288.5 56Z"/></g>
</g>
<path d="M224.9 222.05L264.7 24M242.5 222.05L278.6 32.6M251.6 222.05L290.1 44M257.2 222.05L291.8 52" stroke="#000" stroke-width="0.9" fill="none"/>
<rect x="65.15" y="281.7" width="276.45" height="213" fill="none" stroke="#000" stroke-width="1.4"/>
<path d="M65.15 281.7h-4.4M65.15 299.45h-2.9M65.15 317.2h-4.4M65.15 334.95h-2.9M65.15 352.7h-4.4M65.15 370.45h-2.9M65.15 388.2h-4.4M65.15 405.95h-2.9M65.15 423.7h-4.4M65.15 441.45h-2.9M65.15 459.2h-4.4M65.15 476.95h-2.9M65.15 494.7h-4.4M65.15 494.7v4.6M88.19 494.7v2.9M111.23 494.7v4.6M134.26 494.7v2.9M157.3 494.7v4.6M180.34 494.7v2.9M203.38 494.7v4.6M226.41 494.7v2.9M249.45 494.7v4.6M272.49 494.7v2.9M295.53 494.7v4.6M318.56 494.7v2.9M341.6 494.7v4.6" stroke="#000" stroke-width="1.4" fill="none"/>
<g font-size="12" text-anchor="end">
<text x="50.5" y="286.6">6x10</text>
<text x="51.3" y="280.3" font-size="7.2" text-anchor="start" stroke="#000" stroke-width="0.15">12</text>
<text x="50.5" y="322.1">5x10</text>
<text x="51.3" y="315.8" font-size="7.2" text-anchor="start" stroke="#000" stroke-width="0.15">12</text>
<text x="50.5" y="357.6">4x10</text>
<text x="51.3" y="351.3" font-size="7.2" text-anchor="start" stroke="#000" stroke-width="0.15">12</text>
<text x="50.5" y="393.1">3x10</text>
<text x="51.3" y="386.8" font-size="7.2" text-anchor="start" stroke="#000" stroke-width="0.15">12</text>
<text x="50.5" y="428.6">2x10</text>
<text x="51.3" y="422.3" font-size="7.2" text-anchor="start" stroke="#000" stroke-width="0.15">12</text>
<text x="50.5" y="464.1">1x10</text>
<text x="51.3" y="457.8" font-size="7.2" text-anchor="start" stroke="#000" stroke-width="0.15">12</text>
<text x="58.0" y="499.6">0</text>
</g>
<g font-size="12" text-anchor="middle">
<text x="64.85" y="511.5">4.0</text>
<text x="110.93" y="511.5">4.5</text>
<text x="157" y="511.5">5.0</text>
<text x="203.08" y="511.5">5.5</text>
<text x="249.15" y="511.5">6.0</text>
<text x="295.23" y="511.5">6.5</text>
<text x="341.3" y="511.5">7.0</text>
</g>
<text x="203.3" y="536" font-size="13.3" text-anchor="middle">Energy (eV)</text>
<text transform="translate(13.9 401.9) rotate(-90)" font-size="13.4" letter-spacing="0.55" text-anchor="middle">(αhν)<tspan font-size="7.6" dy="-7.2">2</tspan><tspan dy="7.2">(eV</tspan><tspan font-size="7.6" dy="-7.2">2</tspan><tspan dy="7.2">cm</tspan><tspan font-size="7.6" dy="-7.2">-2</tspan><tspan dy="7.2">)</tspan></text>
<text x="0.8" y="284.6" font-size="14">(b)</text>
<g clip-path="url(#cb)">
<g fill="#8b8b14"><path d="M61.44 491.9L61.44 499.9L68.44 495.9Z"/><path d="M62.63 491.88L62.63 499.88L69.63 495.88Z"/><path d="M63.84 491.86L63.84 499.86L70.84 495.86Z"/><path d="M65.05 491.84L65.05 499.84L72.05 495.84Z"/><path d="M66.26 491.82L66.26 499.82L73.26 495.82Z"/><path d="M67.49 491.8L67.49 499.8L74.49 495.8Z"/><path d="M68.72 491.78L68.72 499.78L75.72 495.78Z"/><path d="M69.97 491.75L69.97 499.75L76.97 495.75Z"/><path d="M71.22 491.73L71.22 499.73L78.22 495.73Z"/><path d="M72.48 491.71L72.48 499.71L79.48 495.71Z"/><path d="M73.75 491.69L73.75 499.69L80.75 495.69Z"/><path d="M75.02 491.67L75.02 499.67L82.02 495.67Z"/><path d="M76.31 491.65L76.31 499.65L83.31 495.65Z"/><path d="M77.6 491.62L77.6 499.62L84.6 495.62Z"/><path d="M78.9 491.6L78.9 499.6L85.9 495.6Z"/><path d="M80.21 491.58L80.21 499.58L87.21 495.58Z"/><path d="M81.53 491.56L81.53 499.56L88.53 495.56Z"/><path d="M82.86 491.53L82.86 499.53L89.86 495.53Z"/><path d="M84.2 491.51L84.2 499.51L91.2 495.51Z"/><path d="M85.55 491.49L85.55 499.49L92.55 495.49Z"/><path d="M86.91 491.46L86.91 499.46L93.91 495.46Z"/><path d="M88.27 491.44L88.27 499.44L95.27 495.44Z"/><path d="M89.65 491.42L89.65 499.42L96.65 495.42Z"/><path d="M91.03 491.39L91.03 499.39L98.03 495.39Z"/><path d="M92.43 491.37L92.43 499.37L99.43 495.37Z"/><path d="M93.83 491.35L93.83 499.35L100.83 495.35Z"/><path d="M95.25 491.32L95.25 499.32L102.25 495.32Z"/><path d="M96.67 491.3L96.67 499.3L103.67 495.3Z"/><path d="M98.11 491.3L98.11 499.3L105.11 495.3Z"/><path d="M99.55 491.3L99.55 499.3L106.55 495.3Z"/><path d="M101.01 491.3L101.01 499.3L108.01 495.3Z"/><path d="M102.48 491.3L102.48 499.3L109.48 495.3Z"/><path d="M103.95 491.3L103.95 499.3L110.95 495.3Z"/><path d="M105.44 491.3L105.44 499.3L112.44 495.3Z"/><path d="M106.94 491.3L106.94 499.3L113.94 495.3Z"/><path d="M108.45 491.3L108.45 499.3L115.45 495.3Z"/><path d="M109.97 491.3L109.97 499.3L116.97 495.3Z"/><path d="M111.5 491.3L111.5 499.3L118.5 495.3Z"/><path d="M113.04 491.3L113.04 499.3L120.04 495.3Z"/><path d="M114.6 491.3L114.6 499.3L121.6 495.3Z"/><path d="M116.17 491.3L116.17 499.3L123.17 495.3Z"/><path d="M117.74 491.3L117.74 499.3L124.74 495.3Z"/><path d="M119.33 491.3L119.33 499.3L126.33 495.3Z"/><path d="M120.93 491.3L120.93 499.3L127.93 495.3Z"/><path d="M122.55 491.3L122.55 499.3L129.55 495.3Z"/><path d="M124.17 491.3L124.17 499.3L131.17 495.3Z"/><path d="M125.81 491.3L125.81 499.3L132.81 495.3Z"/><path d="M127.46 491.23L127.46 499.23L134.46 495.23Z"/><path d="M129.13 491.1L129.13 499.1L136.13 495.1Z"/><path d="M130.8 490.98L130.8 498.98L137.8 494.98Z"/><path d="M132.49 490.85L132.49 498.85L139.49 494.85Z"/><path d="M134.2 490.72L134.2 498.72L141.2 494.72Z"/><path d="M135.91 490.56L135.91 498.56L142.91 494.56Z"/><path d="M137.64 490.39L137.64 498.39L144.64 494.39Z"/><path d="M139.38 490.21L139.38 498.21L146.38 494.21Z"/><path d="M141.14 490.04L141.14 498.04L148.14 494.04Z"/><path d="M142.91 489.86L142.91 497.86L149.91 493.86Z"/><path d="M144.69 489.7L144.69 497.7L151.69 493.7Z"/><path d="M146.49 489.68L146.49 497.68L153.49 493.68Z"/><path d="M148.31 489.67L148.31 497.67L155.31 493.67Z"/><path d="M150.13 489.65L150.13 497.65L157.13 493.65Z"/><path d="M151.98 489.64L151.98 497.64L158.98 493.64Z"/><path d="M153.83 489.62L153.83 497.62L160.83 493.62Z"/><path d="M155.71 489.61L155.71 497.61L162.71 493.61Z"/><path d="M157.6 489.6L157.6 497.6L164.6 493.6Z"/><path d="M159.5 489.6L159.5 497.6L166.5 493.6Z"/><path d="M161.42 489.6L161.42 497.6L168.42 493.6Z"/><path d="M163.35 489.6L163.35 497.6L170.35 493.6Z"/><path d="M165.3 489.6L165.3 497.6L172.3 493.6Z"/><path d="M167.27 489.6L167.27 497.6L174.27 493.6Z"/><path d="M169.26 489.6L169.26 497.6L176.26 493.6Z"/><path d="M171.26 489.6L171.26 497.6L178.26 493.6Z"/><path d="M173.27 489.61L173.27 497.61L180.27 493.61Z"/><path d="M175.31 489.62L175.31 497.62L182.31 493.62Z"/><path d="M177.36 489.63L177.36 497.63L184.36 493.63Z"/><path d="M179.43 489.65L179.43 497.65L186.43 493.65Z"/><path d="M181.52 489.66L181.52 497.66L188.52 493.66Z"/><path d="M183.62 489.67L183.62 497.67L190.62 493.67Z"/><path d="M185.75 489.68L185.75 497.68L192.75 493.68Z"/><path d="M187.89 489.7L187.89 497.7L194.89 493.7Z"/><path d="M190.05 489.78L190.05 497.78L197.05 493.78Z"/><path d="M192.23 489.86L192.23 497.86L199.23 493.86Z"/><path d="M194.43 489.89L194.43 497.89L201.43 493.89Z"/><path d="M196.65 489.92L196.65 497.92L203.65 493.92Z"/><path d="M198.89 489.84L198.89 497.84L205.89 493.84Z"/><path d="M201.15 489.76L201.15 497.76L208.15 493.76Z"/><path d="M203.43 489.68L203.43 497.68L210.43 493.68Z"/><path d="M205.73 489.6L205.73 497.6L212.73 493.6Z"/><path d="M208.05 489.37L208.05 497.37L215.05 493.37Z"/><path d="M210.39 489.05L210.39 497.05L217.39 493.05Z"/><path d="M212.75 488.77L212.75 496.77L219.75 492.77Z"/><path d="M215.14 488.47L215.14 496.47L222.14 492.47Z"/><path d="M217.54 487.99L217.54 495.99L224.54 491.99Z"/><path d="M219.97 487.4L219.97 495.4L226.97 491.4Z"/><path d="M222.43 486.33L222.43 494.33L229.43 490.33Z"/><path d="M224.9 484.5L224.9 492.5L231.9 488.5Z"/><path d="M227.3 481.3L227.3 489.3L234.3 485.3Z"/><path d="M229.7 476.4L229.7 484.4L236.7 480.4Z"/><path d="M232.5 469.4L232.5 477.4L239.5 473.4Z"/><path d="M234.9 462.2L234.9 470.2L241.9 466.2Z"/><path d="M237.5 455.3L237.5 463.3L244.5 459.3Z"/><path d="M240.2 449L240.2 457L247.2 453Z"/><path d="M242.5 442.4L242.5 450.4L249.5 446.4Z"/><path d="M243.4 440.3L243.4 448.3L250.4 444.3Z"/><path d="M244.3 438.2L244.3 446.2L251.3 442.2Z"/><path d="M245.2 436.4L245.2 444.4L252.2 440.4Z"/><path d="M246.1 434.6L246.1 442.6L253.1 438.6Z"/><path d="M246.8 433.3L246.8 441.3L253.8 437.3Z"/><path d="M247.5 432L247.5 440L254.5 436Z"/><path d="M248.3 431.1L248.3 439.1L255.3 435.1Z"/><path d="M249.1 430.2L249.1 438.2L256.1 434.2Z"/><path d="M250 429.6L250 437.6L257 433.6Z"/><path d="M250.9 429L250.9 437L257.9 433Z"/><path d="M251.9 428.5L251.9 436.5L258.9 432.5Z"/><path d="M252.9 428L252.9 436L259.9 432Z"/><path d="M253.9 427.5L253.9 435.5L260.9 431.5Z"/><path d="M254.9 427L254.9 435L261.9 431Z"/><path d="M255.9 426.4L255.9 434.4L262.9 430.4Z"/><path d="M256.9 425.8L256.9 433.8L263.9 429.8Z"/><path d="M257.9 425.1L257.9 433.1L264.9 429.1Z"/><path d="M258.9 424.4L258.9 432.4L265.9 428.4Z"/><path d="M259.9 423.6L259.9 431.6L266.9 427.6Z"/><path d="M260.9 422.8L260.9 430.8L267.9 426.8Z"/><path d="M261.9 421.7L261.9 429.7L268.9 425.7Z"/><path d="M262.9 420.6L262.9 428.6L269.9 424.6Z"/><path d="M263.9 419.2L263.9 427.2L270.9 423.2Z"/><path d="M264.9 417.8L264.9 425.8L271.9 421.8Z"/><path d="M265.9 416L265.9 424L272.9 420Z"/><path d="M266.9 414.2L266.9 422.2L273.9 418.2Z"/><path d="M269.1 408.6L269.1 416.6L276.1 412.6Z"/><path d="M271.7 399.9L271.7 407.9L278.7 403.9Z"/><path d="M274.3 389.6L274.3 397.6L281.3 393.6Z"/><path d="M277.1 379L277.1 387L284.1 383Z"/><path d="M279.9 367L279.9 375L286.9 371Z"/><path d="M283.1 351.4L283.1 359.4L290.1 355.4Z"/><path d="M286.1 342.6L286.1 350.6L293.1 346.6Z"/><path d="M288.9 330.5L288.9 338.5L295.9 334.5Z"/><path d="M292.2 325L292.2 333L299.2 329Z"/></g>
<g fill="#000096"><path d="M60.4 495.6L64.75 491.25L69.1 495.6L64.75 499.95Z"/><path d="M61.59 495.57L65.94 491.22L70.29 495.57L65.94 499.92Z"/><path d="M62.79 495.53L67.14 491.18L71.49 495.53L67.14 499.88Z"/><path d="M64 495.49L68.35 491.14L72.7 495.49L68.35 499.84Z"/><path d="M65.22 495.45L69.57 491.1L73.92 495.45L69.57 499.8Z"/><path d="M66.44 495.41L70.79 491.06L75.14 495.41L70.79 499.76Z"/><path d="M67.68 495.38L72.03 491.03L76.38 495.38L72.03 499.73Z"/><path d="M68.92 495.34L73.27 490.99L77.62 495.34L73.27 499.69Z"/><path d="M70.17 495.3L74.52 490.95L78.87 495.3L74.52 499.65Z"/><path d="M71.42 495.26L75.77 490.91L80.12 495.26L75.77 499.61Z"/><path d="M72.69 495.21L77.04 490.86L81.39 495.21L77.04 499.56Z"/><path d="M73.97 495.17L78.32 490.82L82.67 495.17L78.32 499.52Z"/><path d="M75.25 495.13L79.6 490.78L83.95 495.13L79.6 499.48Z"/><path d="M76.54 495.09L80.89 490.74L85.24 495.09L80.89 499.44Z"/><path d="M77.84 495.05L82.19 490.7L86.54 495.05L82.19 499.4Z"/><path d="M79.15 495.01L83.5 490.66L87.85 495.01L83.5 499.36Z"/><path d="M80.47 494.97L84.82 490.62L89.17 494.97L84.82 499.32Z"/><path d="M81.8 494.92L86.15 490.57L90.5 494.92L86.15 499.27Z"/><path d="M83.13 494.88L87.48 490.53L91.83 494.88L87.48 499.23Z"/><path d="M84.48 494.84L88.83 490.49L93.18 494.84L88.83 499.19Z"/><path d="M85.84 494.8L90.19 490.45L94.54 494.8L90.19 499.15Z"/><path d="M87.2 494.77L91.55 490.42L95.9 494.77L91.55 499.12Z"/><path d="M88.58 494.74L92.93 490.39L97.28 494.74L92.93 499.09Z"/><path d="M89.96 494.71L94.31 490.36L98.66 494.71L94.31 499.06Z"/><path d="M91.35 494.69L95.7 490.34L100.05 494.69L95.7 499.04Z"/><path d="M92.76 494.66L97.11 490.31L101.46 494.66L97.11 499.01Z"/><path d="M94.17 494.63L98.52 490.28L102.87 494.63L98.52 498.98Z"/><path d="M95.59 494.6L99.94 490.25L104.29 494.6L99.94 498.95Z"/><path d="M97.03 494.57L101.38 490.22L105.73 494.57L101.38 498.92Z"/><path d="M98.47 494.54L102.82 490.19L107.17 494.54L102.82 498.89Z"/><path d="M99.93 494.51L104.28 490.16L108.63 494.51L104.28 498.86Z"/><path d="M101.39 494.49L105.74 490.14L110.09 494.49L105.74 498.84Z"/><path d="M102.87 494.46L107.22 490.11L111.57 494.46L107.22 498.81Z"/><path d="M104.35 494.43L108.7 490.08L113.05 494.43L108.7 498.78Z"/><path d="M105.85 494.4L110.2 490.05L114.55 494.4L110.2 498.75Z"/><path d="M107.36 494.43L111.71 490.08L116.06 494.43L111.71 498.78Z"/><path d="M108.87 494.46L113.22 490.11L117.57 494.46L113.22 498.81Z"/><path d="M110.4 494.5L114.75 490.15L119.1 494.5L114.75 498.85Z"/><path d="M111.95 494.53L116.3 490.18L120.65 494.53L116.3 498.88Z"/><path d="M113.5 494.56L117.85 490.21L122.2 494.56L117.85 498.91Z"/><path d="M115.06 494.59L119.41 490.24L123.76 494.59L119.41 498.94Z"/><path d="M116.64 494.62L120.99 490.27L125.34 494.62L120.99 498.97Z"/><path d="M118.23 494.65L122.58 490.3L126.93 494.65L122.58 499Z"/><path d="M119.83 494.68L124.18 490.33L128.53 494.68L124.18 499.03Z"/><path d="M121.44 494.72L125.79 490.37L130.14 494.72L125.79 499.07Z"/><path d="M123.06 494.75L127.41 490.4L131.76 494.75L127.41 499.1Z"/><path d="M124.7 494.78L129.05 490.43L133.4 494.78L129.05 499.13Z"/><path d="M126.35 494.82L130.7 490.47L135.05 494.82L130.7 499.17Z"/><path d="M128.01 494.87L132.36 490.52L136.71 494.87L132.36 499.22Z"/><path d="M129.68 494.92L134.03 490.57L138.38 494.92L134.03 499.27Z"/><path d="M131.37 494.97L135.72 490.62L140.07 494.97L135.72 499.32Z"/><path d="M133.07 495.02L137.42 490.67L141.77 495.02L137.42 499.37Z"/><path d="M134.78 495.07L139.13 490.72L143.48 495.07L139.13 499.42Z"/><path d="M136.51 495.13L140.86 490.78L145.21 495.13L140.86 499.48Z"/><path d="M138.25 495.18L142.6 490.83L146.95 495.18L142.6 499.53Z"/><path d="M140.01 495.23L144.36 490.88L148.71 495.23L144.36 499.58Z"/><path d="M141.77 495.28L146.12 490.93L150.47 495.28L146.12 499.63Z"/><path d="M143.56 495.34L147.91 490.99L152.26 495.34L147.91 499.69Z"/><path d="M145.35 495.39L149.7 491.04L154.05 495.39L149.7 499.74Z"/><path d="M147.16 495.38L151.51 491.03L155.86 495.38L151.51 499.73Z"/><path d="M148.99 495.37L153.34 491.02L157.69 495.37L153.34 499.72Z"/><path d="M150.83 495.35L155.18 491L159.53 495.35L155.18 499.7Z"/><path d="M152.68 495.33L157.03 490.98L161.38 495.33L157.03 499.68Z"/><path d="M154.56 495.31L158.91 490.96L163.26 495.31L158.91 499.66Z"/><path d="M156.44 495.29L160.79 490.94L165.14 495.29L160.79 499.64Z"/><path d="M158.34 495.27L162.69 490.92L167.04 495.27L162.69 499.62Z"/><path d="M160.26 495.25L164.61 490.9L168.96 495.25L164.61 499.6Z"/><path d="M162.19 495.23L166.54 490.88L170.89 495.23L166.54 499.58Z"/><path d="M164.14 495.22L168.49 490.87L172.84 495.22L168.49 499.57Z"/><path d="M166.1 495.19L170.45 490.84L174.8 495.19L170.45 499.54Z"/><path d="M168.09 495.17L172.44 490.82L176.79 495.17L172.44 499.52Z"/><path d="M170.08 495.14L174.43 490.79L178.78 495.14L174.43 499.49Z"/><path d="M172.1 495.11L176.45 490.76L180.8 495.11L176.45 499.46Z"/><path d="M174.13 495.09L178.48 490.74L182.83 495.09L178.48 499.44Z"/><path d="M176.18 495.06L180.53 490.71L184.88 495.06L180.53 499.41Z"/><path d="M178.25 495.03L182.6 490.68L186.95 495.03L182.6 499.38Z"/><path d="M180.33 495L184.68 490.65L189.03 495L184.68 499.35Z"/><path d="M182.43 494.93L186.78 490.58L191.13 494.93L186.78 499.28Z"/><path d="M184.55 494.84L188.9 490.49L193.25 494.84L188.9 499.19Z"/><path d="M186.69 494.76L191.04 490.41L195.39 494.76L191.04 499.11Z"/><path d="M188.85 494.67L193.2 490.32L197.55 494.67L193.2 499.02Z"/><path d="M191.03 494.57L195.38 490.22L199.73 494.57L195.38 498.92Z"/><path d="M193.23 494.39L197.58 490.04L201.93 494.39L197.58 498.74Z"/><path d="M195.44 494.22L199.79 489.87L204.14 494.22L199.79 498.57Z"/><path d="M197.68 493.97L202.03 489.62L206.38 493.97L202.03 498.32Z"/><path d="M199.93 493.71L204.28 489.36L208.63 493.71L204.28 498.06Z"/><path d="M202.21 493.45L206.56 489.1L210.91 493.45L206.56 497.8Z"/><path d="M204.5 493.12L208.85 488.77L213.2 493.12L208.85 497.47Z"/><path d="M206.82 492.7L211.17 488.35L215.52 492.7L211.17 497.05Z"/><path d="M209.16 492.27L213.51 487.92L217.86 492.27L213.51 496.62Z"/><path d="M211.52 491.79L215.87 487.44L220.22 491.79L215.87 496.14Z"/><path d="M213.9 491.22L218.25 486.87L222.6 491.22L218.25 495.57Z"/><path d="M216.3 490.56L220.65 486.21L225 490.56L220.65 494.91Z"/><path d="M218.73 489.66L223.08 485.31L227.43 489.66L223.08 494.01Z"/><path d="M221.18 488.28L225.53 483.93L229.88 488.28L225.53 492.63Z"/><path d="M223.65 486.2L228 481.85L232.35 486.2L228 490.55Z"/><path d="M225.95 482.6L230.3 478.25L234.65 482.6L230.3 486.95Z"/><path d="M228.15 476.6L232.5 472.25L236.85 476.6L232.5 480.95Z"/><path d="M230.85 467.8L235.2 463.45L239.55 467.8L235.2 472.15Z"/><path d="M233.45 457.4L237.8 453.05L242.15 457.4L237.8 461.75Z"/><path d="M236.05 445.8L240.4 441.45L244.75 445.8L240.4 450.15Z"/><path d="M238.85 434.6L243.2 430.25L247.55 434.6L243.2 438.95Z"/><path d="M241.05 426.6L245.4 422.25L249.75 426.6L245.4 430.95Z"/><path d="M242.95 421.4L247.3 417.05L251.65 421.4L247.3 425.75Z"/><path d="M244 420.4L248.35 416.05L252.7 420.4L248.35 424.75Z"/><path d="M245.05 419.4L249.4 415.05L253.75 419.4L249.4 423.75Z"/><path d="M246.25 419.7L250.6 415.35L254.95 419.7L250.6 424.05Z"/><path d="M247.45 420L251.8 415.65L256.15 420L251.8 424.35Z"/><path d="M248.75 420.3L253.1 415.95L257.45 420.3L253.1 424.65Z"/><path d="M250.05 420.6L254.4 416.25L258.75 420.6L254.4 424.95Z"/><path d="M251.35 420.5L255.7 416.15L260.05 420.5L255.7 424.85Z"/><path d="M252.65 420.4L257 416.05L261.35 420.4L257 424.75Z"/><path d="M253.9 419.7L258.25 415.35L262.6 419.7L258.25 424.05Z"/><path d="M255.15 419L259.5 414.65L263.85 419L259.5 423.35Z"/><path d="M256.5 417.65L260.85 413.3L265.2 417.65L260.85 422Z"/><path d="M257.85 416.3L262.2 411.95L266.55 416.3L262.2 420.65Z"/><path d="M259.25 414.4L263.6 410.05L267.95 414.4L263.6 418.75Z"/><path d="M260.65 412.5L265 408.15L269.35 412.5L265 416.85Z"/><path d="M262.05 410L266.4 405.65L270.75 410L266.4 414.35Z"/><path d="M263.45 407.5L267.8 403.15L272.15 407.5L267.8 411.85Z"/><path d="M266.35 400.5L270.7 396.15L275.05 400.5L270.7 404.85Z"/><path d="M269.15 389.5L273.5 385.15L277.85 389.5L273.5 393.85Z"/><path d="M272.15 376.6L276.5 372.25L280.85 376.6L276.5 380.95Z"/><path d="M275.05 361.5L279.4 357.15L283.75 361.5L279.4 365.85Z"/><path d="M278.15 351.2L282.5 346.85L286.85 351.2L282.5 355.55Z"/><path d="M281.05 334.6L285.4 330.25L289.75 334.6L285.4 338.95Z"/><path d="M284.25 321.7L288.6 317.35L292.95 321.7L288.6 326.05Z"/><path d="M287.55 308.9L291.9 304.55L296.25 308.9L291.9 313.25Z"/></g>
</g>
<path d="M229.4 494.7L248.6 412.6M231.8 494.7L250.3 427.9M249.3 494.7L291.7 308.3M253.3 494.7L293.4 324.2" stroke="#000" stroke-width="0.9" fill="none"/>
<g fill="#000000"><rect x="108.15" y="38.15" width="5.7" height="5.7"/></g>
<text x="124.8" y="44.7" font-size="12">400<tspan font-size="8" dx="0.3" dy="-6.6">o</tspan><tspan dx="0.4" dy="6.6">C</tspan></text>
<g fill="#e00000"><circle cx="111" cy="59.7" r="3.25"/></g>
<text x="124.8" y="63.4" font-size="12">450<tspan font-size="8" dx="0.3" dy="-6.6">o</tspan><tspan dx="0.4" dy="6.6">C</tspan></text>
<g fill="#0000ff"><path d="M107 81L115 81L111 74Z"/></g>
<text x="124.8" y="82.1" font-size="12">500<tspan font-size="8" dx="0.3" dy="-6.6">o</tspan><tspan dx="0.4" dy="6.6">C</tspan></text>
<g fill="#3f8080"><path d="M107 94.6L115 94.6L111 101.6Z"/></g>
<text x="124.8" y="100.8" font-size="12">550<tspan font-size="8" dx="0.3" dy="-6.6">o</tspan><tspan dx="0.4" dy="6.6">C</tspan></text>
<g fill="#e600e6"><path d="M113.4 111.8L113.4 119.8L106.6 115.8Z"/></g>
<text x="124.8" y="119.5" font-size="12">600<tspan font-size="8" dx="0.3" dy="-6.6">o</tspan><tspan dx="0.4" dy="6.6">C</tspan></text>
<g fill="#8b8b14"><path d="M108.1 308L108.1 316L115.1 312Z"/></g>
<text x="124.8" y="315.7" font-size="12">700<tspan font-size="8" dx="0.3" dy="-6.6">o</tspan><tspan dx="0.4" dy="6.6">C</tspan></text>
<g fill="#000096"><path d="M106.65 330.8L111 326.45L115.35 330.8L111 335.15Z"/></g>
<text x="124.8" y="334.5" font-size="12">800<tspan font-size="8" dx="0.3" dy="-6.6">o</tspan><tspan dx="0.4" dy="6.6">C</tspan></text>
</svg>
</body>
</html>
